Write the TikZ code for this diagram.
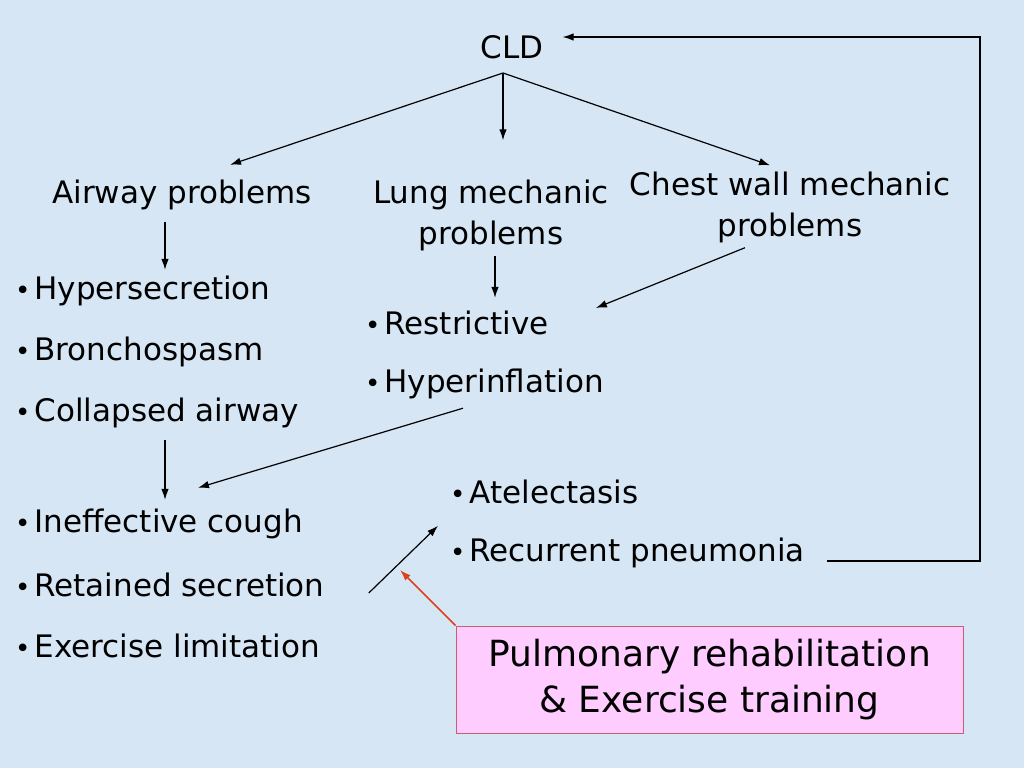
\documentclass[tikz,border=0pt]{standalone}
\usepackage{fontspec}
\setmainfont{DejaVu Sans}
\usepackage{tikz}
\usetikzlibrary{positioning,arrows.meta}
\definecolor{slideblue}{HTML}{D6E6F4}
\definecolor{boxpink}{HTML}{FFCCFF}
\definecolor{boxedge}{HTML}{C8606E}
\definecolor{pointred}{HTML}{D9441A}
\newcommand{\bul}{{\fontsize{26}{26}\selectfont •}\hspace{4pt}}

\tikzset{
  txt/.style={inner sep=0pt, font=\fontsize{31}{41}\selectfont},
  item/.style={txt, anchor=west},
  arr/.style={-{Latex[length=11pt,width=7.5pt]}, line width=1.2pt},
}

\begin{document}
\begin{tikzpicture}[x=1pt, y=-1pt]
  \fill[slideblue] (0,0) rectangle (1024,768);
  \useasboundingbox (0,0) rectangle (1024,768);

  % headings
  \node[txt] (cld) at (512,47) {CLD};
  \node[txt] (airway) at (182,195) {Airway problems};
  \node[txt, align=center] (lung) at (491,215) {Lung mechanic\\problems};
  \node[txt, align=center] (chest) at (790,207) {Chest wall mechanic\\problems};

  % bullet lists
  \foreach \y/\name/\text in {291/hyper/Hypersecretion, 352/broncho/Bronchospasm,
      413/collapse/Collapsed airway, 524/cough/Ineffective cough,
      585/retained/Retained secretion, 646/exlimit/Exercise limitation}
    \node[item] (\name) at (15,\y) {\bul\text};
  \foreach \y/\name/\text in {323/restrict/Restrictive, 384/hyperinf/Hyperinflation}
    \node[item] (\name) at (365,\y) {\bul\text};
  \foreach \y/\name/\text in {492/atel/Atelectasis, 553/pneu/Recurrent pneumonia}
    \node[item] (\name) at (450,\y) {\bul\text};

  % intervention box
  \node[draw=boxedge, fill=boxpink, line width=0.9pt, minimum width=507pt, minimum height=107pt,
        align=center, font=\fontsize{36}{46}\selectfont] (rehab) at (709.5,679.5)
        {Pulmonary rehabilitation\\\& Exercise training};

  % arrows from CLD
  \coordinate (hub) at (503,73);
  \draw[arr] (hub) -- ([xshift=48pt,yshift=15pt]airway.north);
  \draw[arr] (hub) -- ([xshift=12pt,yshift=39pt]lung.north);
  \draw[arr] (hub) -- ([xshift=-20pt,yshift=6pt]chest.north);

  % arrows down the chain
  \draw[arr] ([xshift=-17pt,yshift=-12pt]airway.south) -- ([xshift=150pt,yshift=6pt]hyper.north west);
  \draw[arr] ([xshift=4pt,yshift=-5pt]lung.south) -- ([xshift=130pt,yshift=13pt]restrict.north west);
  \draw[arr] ([xshift=-45pt,yshift=-5pt]chest.south) -- ([xshift=47pt,yshift=15pt]restrict.east);
  \draw[arr] ([xshift=98pt,yshift=-9pt]hyperinf.south west) -- ([xshift=183pt,yshift=21pt]cough.north west);
  \draw[arr] ([xshift=150pt,yshift=-12pt]collapse.south west) -- ([xshift=150pt,yshift=9pt]cough.north west);
  \draw[arr] ([xshift=44pt,yshift=-8pt]retained.east) -- ([xshift=-12pt,yshift=12pt]pneu.north west);

  % pointer from the box
  \draw[-{Latex[length=11pt,width=7.5pt]}, pointred, line width=1.6pt] (rehab.north west) -- (400,570);

  % feedback to CLD
  \draw[arr] ([xshift=22pt,yshift=-8pt]pneu.east) -- (980,561) -- (980,37) -- ([xshift=19pt,yshift=10pt]cld.east);
\end{tikzpicture}
\end{document}
